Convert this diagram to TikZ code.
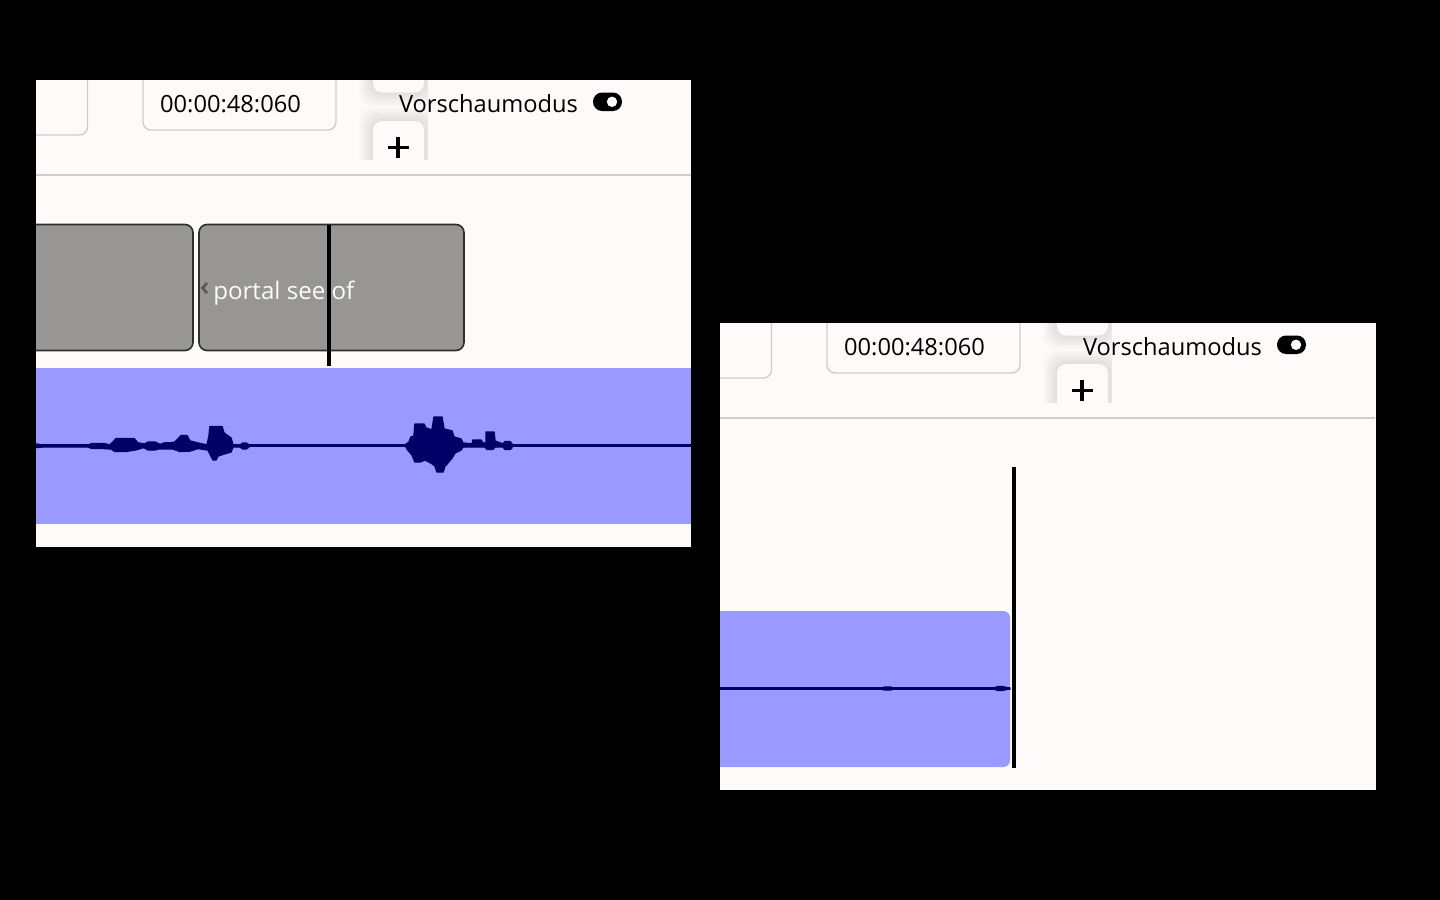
\documentclass[tikz,border=0pt]{standalone}
\usepackage{fontspec}
\setmainfont{Open Sans}
\definecolor{panelbg}{HTML}{FDFAF9}
\definecolor{hairline}{HTML}{CFCDCB}
\definecolor{clipgray}{HTML}{979695}
\definecolor{clipedge}{HTML}{2E2E2E}
\definecolor{audiofill}{HTML}{9999FF}
\definecolor{wavecol}{HTML}{000066}
\tikzset{
  panel/.style={fill=panelbg,draw=none},
  fieldbox/.style={draw=hairline,line width=1pt,fill=panelbg,rounded corners=6},
  uitext/.style={inner sep=0pt,text=black,font=\fontsize{17.75pt}{20pt}\selectfont,anchor=base},
  cliptile/.style={draw=clipedge,line width=1.2pt,fill=clipgray,rounded corners=6},
  cliptext/.style={inner sep=0pt,text=panelbg,font=\fontsize{18.1pt}{20pt}\selectfont,anchor=base west},
  playhead/.style={draw=black,line width=3pt},
  audio/.style={fill=audiofill,draw=none},
  wave/.style={fill=wavecol,draw=wavecol,line width=1.1pt,line join=round},
  waveline/.style={draw=wavecol,line width=2.6pt},
  tab/.style={fill=panelbg,draw=none,rounded corners=7},
}
\newcommand{\panelhead}{%
  \begin{scope}
    \clip (340,80) rectangle (428,159);
    \foreach \r in {1,2,...,14}{
      \fill[black,fill opacity=0.006,rounded corners=10] (373-\r,50-\r) rectangle (424+\r,92.5+\r);
      \fill[black,fill opacity=0.006,rounded corners=10] (373-\r,121-\r) rectangle (424+\r,190);
    }
    \path[tab] (373,50) rectangle (424,92.5);
    \path[tab] (373,121) rectangle (424,190);
  \end{scope}
  \draw[fieldbox] (0,50) rectangle (87.5,135);
  \draw[fieldbox] (143,50) rectangle (336,130);
  \node[uitext] (timecode) at (230.5,112) {00:00:48:060};
  \node[uitext] (mode) at (488.5,112.5) {Vorschaumodus};
  \fill[black,rounded corners=6.8] (593,92.5) rectangle (622,111);
  \fill[panelbg] (612,101.8) circle (5.2);
  \draw[black,line width=2.6pt] (387.5,147.5) -- (409,147.5) (398.2,137) -- (398.2,158);
  \draw[hairline,line width=1.1pt] (36,175) -- (691,175);
}
\begin{document}
\begin{tikzpicture}[x=0.75pt,y=-0.75pt]
\useasboundingbox (0,0) rectangle (1440,900);
\fill[black] (0,0) rectangle (1440,900);
% left panel
\begin{scope}
  \clip (36,80) rectangle (691,547);
  \fill[panel] (36,80) rectangle (691,547);
  \panelhead
  \draw[cliptile] (0,224.5) rectangle (193,350.5);
  \draw[cliptile] (199,224.5) rectangle (464,350.5);
  \node[cliptext] (cliplabel) at (213,299.5) {portal see of};
  \draw[draw=black!40!clipgray,line width=2pt] (207,283) -- (202.5,288) -- (207,293);
  \path[audio] (36,368) rectangle (691,524);
  \draw[waveline] (36,445.7) -- (691,445.7);
  \path[wave] (36,444) -- (42,445) -- (88,445) -- (92,443.5) -- (104,443.5) -- (110,445)
    -- (113,442) -- (116,438.5) -- (134,438.5) -- (138,443) -- (145,444) -- (148,442)
    -- (155,442) -- (160,444.5) -- (165,442.8) -- (171,442.8) -- (175,442) -- (179,438)
    -- (181,435.5) -- (187,435.5) -- (190,441) -- (198,443) -- (207,445) -- (209,436)
    -- (210,426.5) -- (222,426.5) -- (224,433) -- (231,438) -- (233,445) -- (240,445)
    -- (243,443) -- (246,443) -- (249,445) -- (249,447) -- (246,449) -- (243,449)
    -- (240,447) -- (233,447) -- (231,452) -- (224,454) -- (218,456) -- (216,460)
    -- (213,460) -- (211,456) -- (208,450) -- (198,448.5) -- (190,451) -- (180,451.5)
    -- (173,449) -- (165,448.8) -- (158,449) -- (155,450) -- (148,450) -- (144,447.5)
    -- (135,450) -- (125,451.5) -- (115,451.5) -- (111,449) -- (104,448.5) -- (92,448.5)
    -- (88,447) -- (42,447) -- (36,447.5) -- cycle;
  \path[wave] (405,445) -- (409,442) -- (411,437) -- (414,436) -- (415,424) -- (424,424)
    -- (426,428) -- (432,430) -- (434,417) -- (442,417) -- (444,429) -- (452,431)
    -- (454,437) -- (461,439) -- (463,443) -- (472,444) -- (473,440) -- (481,440)
    -- (483,443) -- (486,443) -- (486,432) -- (494,432) -- (495,441) -- (503,444)
    -- (505,441.5) -- (510,441.5) -- (512,444) -- (512,448) -- (510,449.5) -- (505,449.5)
    -- (503,447) -- (495,447) -- (493,449.5) -- (487,449.5) -- (485,447) -- (463,447)
    -- (461,450) -- (455,453) -- (452,458) -- (447,464) -- (445,466) -- (443,472)
    -- (437,472) -- (435,466) -- (431,463) -- (425,460) -- (420,462) -- (415,462)
    -- (412,455) -- (407,449) -- cycle;
  \draw[playhead] (329,225) -- (329,366);
\end{scope}
% right panel
\begin{scope}[shift={(684,243)},name prefix=r-]
  \clip (36,80) rectangle (692,547);
  \fill[panel] (36,80) rectangle (692,547);
  \panelhead
  \path[audio,rounded corners=5] (0,368) rectangle (326,524);
  \draw[waveline] (36,445.5) -- (326,445.5);
  \path[wave] (199,444.5) -- (201,444) -- (206,444) -- (208,444.5) -- (208,446.5) -- (206,447)
    -- (201,447) -- (199,446.5) -- cycle;
  \path[wave] (311,444.5) -- (314,443.6) -- (319,443.6) -- (322,444.6) -- (326,445)
    -- (326,446) -- (322,446.4) -- (319,447.4) -- (314,447.4) -- (311,446.5) -- cycle;
  \draw[playhead] (329.5,224) -- (329.5,525);
\end{scope}
\end{tikzpicture}
\end{document}
